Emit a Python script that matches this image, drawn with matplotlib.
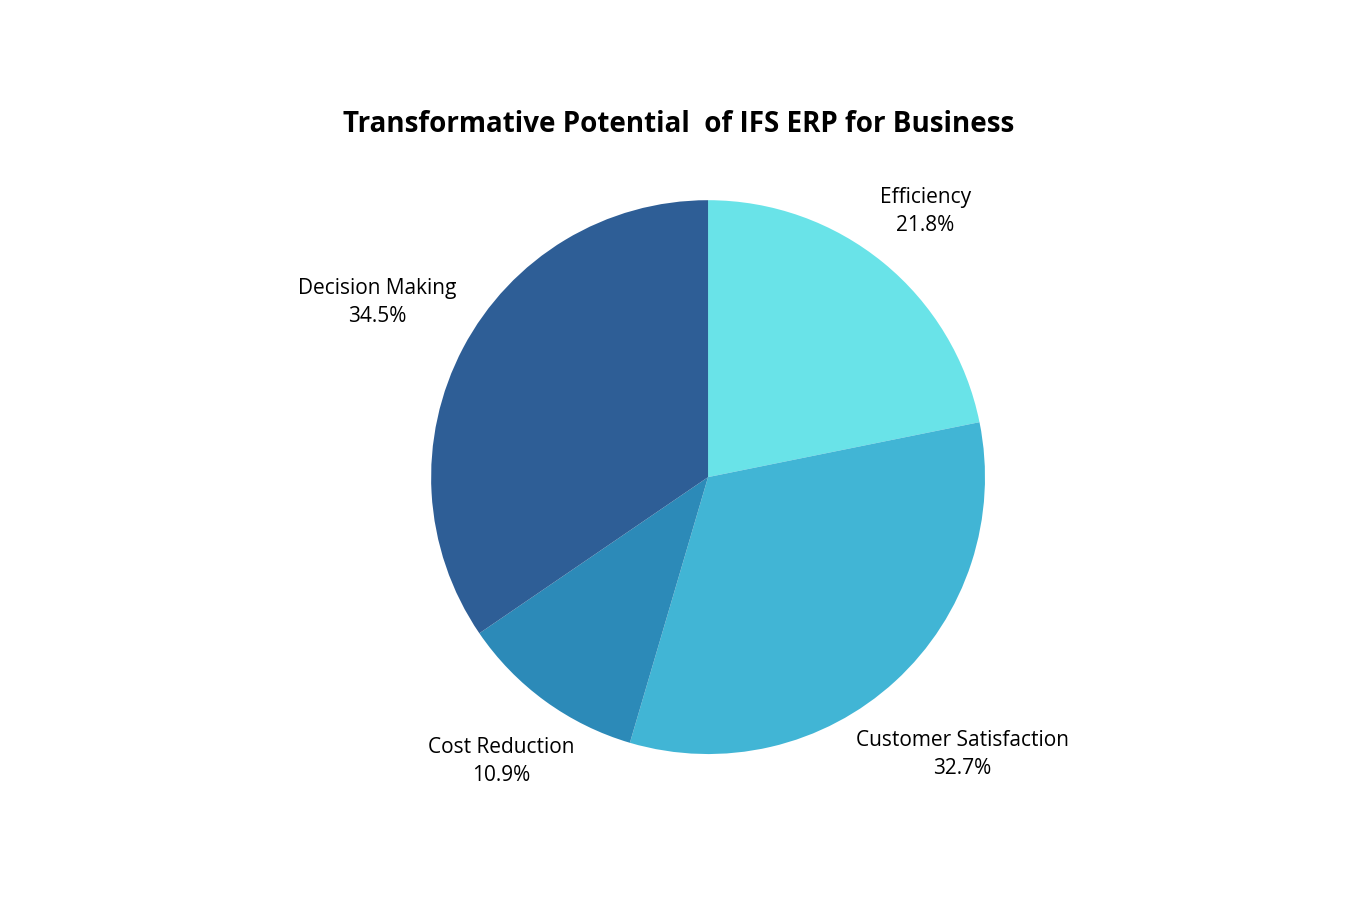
import matplotlib
matplotlib.use("Agg")
import matplotlib.pyplot as plt
import numpy as np

labels = ["Efficiency", "Customer Satisfaction", "Cost Reduction", "Decision Making"]
values = [21.8, 32.7, 10.9, 34.5]
colors = ["#69E3E8", "#41B5D5", "#2C8AB8", "#2E5E96"]
label_dist = [1.24, 1.36, 1.27, 1.35]

plt.rcParams['font.family'] = ['Open Sans', 'DejaVu Sans']
fig = plt.figure(figsize=(13.58, 9.05), dpi=100)
fig.patch.set_facecolor("white")
ax = fig.add_axes([0.2154, 0.0138, 0.612, 0.918])
wedges, _ = ax.pie(values, colors=colors, startangle=90, counterclock=False, radius=1.0)
ax.set_xlim(-1.5, 1.5); ax.set_ylim(-1.5, 1.5); ax.set_aspect('equal')
for w, lab, v, d in zip(wedges, labels, values, label_dist):
    ang = np.deg2rad((w.theta1 + w.theta2) / 2)
    ax.text(d*np.cos(ang), d*np.sin(ang), f"{lab}\n{v}%", ha='center', va='center',
            fontsize=15, linespacing=1.45)
fig.text(0.5, 1-125/905, "Transformative Potential  of IFS ERP for Business", ha='center', va='center',
         fontsize=20, fontweight='bold')
fig.savefig("out.png", dpi=100)
